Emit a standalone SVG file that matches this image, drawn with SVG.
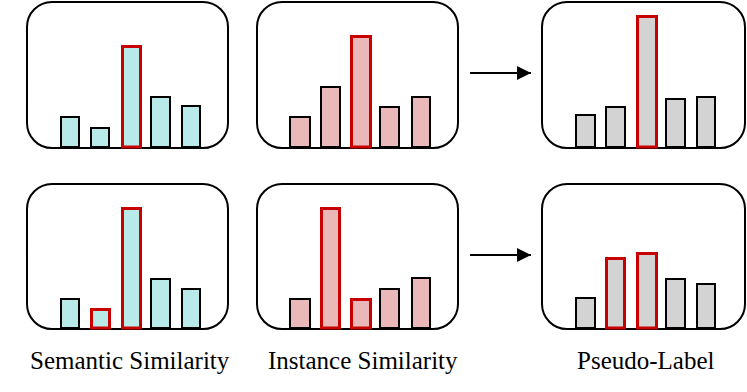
<svg xmlns="http://www.w3.org/2000/svg" width="747" height="392" viewBox="0 0 747 392">
<style>
.box{fill:#fff;stroke:#000;stroke-width:2}
.bar{stroke:#000;stroke-width:2}
.c{fill:#B9EAEA}
.p{fill:#EAB8B8}
.g{fill:#D3D3D3}
.r{stroke:#C80000;stroke-width:3}
.conn{stroke:#000;stroke-width:2;fill:none}
</style>
<defs>
<marker id="ah" markerUnits="userSpaceOnUse" markerWidth="16" markerHeight="16" refX="14" refY="7" orient="auto">
<path d="M0,0 L14,7 L0,14 Z" fill="#000"/>
</marker>
</defs>
<g id="semantic-top">
<rect class="box" x="27" y="2" width="201" height="146" rx="25"/>
<rect class="bar c" x="61" y="117" width="18" height="30"/>
<rect class="bar c" x="91" y="128" width="18" height="19"/>
<rect class="bar c r" x="122.5" y="46.5" width="18" height="100.5"/>
<rect class="bar c" x="151" y="97" width="19" height="50"/>
<rect class="bar c" x="182" y="106" width="18" height="41"/>
</g>
<g id="instance-top">
<rect class="box" x="257" y="2" width="201" height="146" rx="25"/>
<rect class="bar p" x="290" y="117" width="20" height="30"/>
<rect class="bar p" x="321" y="87" width="19" height="60"/>
<rect class="bar p r" x="351.5" y="36.5" width="19" height="110.5"/>
<rect class="bar p" x="380" y="107" width="19" height="40"/>
<rect class="bar p" x="412" y="97" width="18" height="50"/>
</g>
<g id="pseudo-top">
<rect class="box" x="542" y="2" width="203" height="146" rx="25"/>
<rect class="bar g" x="576" y="115" width="19" height="32"/>
<rect class="bar g" x="606" y="107" width="19" height="40"/>
<rect class="bar g r" x="637.5" y="16.5" width="19" height="130.5"/>
<rect class="bar g" x="666" y="99" width="19" height="48"/>
<rect class="bar g" x="697" y="97" width="18" height="50"/>
</g>
<g id="semantic-bottom">
<rect class="box" x="27" y="184" width="201" height="145" rx="25"/>
<rect class="bar c" x="61" y="299" width="18" height="29"/>
<rect class="bar c r" x="91.5" y="309.5" width="18" height="18.5"/>
<rect class="bar c r" x="122.5" y="208.5" width="18" height="119.5"/>
<rect class="bar c" x="151" y="279" width="19" height="49"/>
<rect class="bar c" x="182" y="289" width="18" height="39"/>
</g>
<g id="instance-bottom">
<rect class="box" x="257" y="184" width="201" height="145" rx="25"/>
<rect class="bar p" x="290" y="299" width="20" height="29"/>
<rect class="bar p r" x="321.5" y="208.5" width="18" height="119.5"/>
<rect class="bar p r" x="351.5" y="299.5" width="19" height="28.5"/>
<rect class="bar p" x="380" y="289" width="19" height="39"/>
<rect class="bar p" x="412" y="278" width="18" height="50"/>
</g>
<g id="pseudo-bottom">
<rect class="box" x="542" y="184" width="203" height="145" rx="25"/>
<rect class="bar g" x="576" y="298" width="19" height="30"/>
<rect class="bar g r" x="606.5" y="258.5" width="18" height="69.5"/>
<rect class="bar g r" x="637.5" y="253.5" width="19" height="74.5"/>
<rect class="bar g" x="666" y="279" width="19" height="49"/>
<rect class="bar g" x="697" y="284" width="18" height="44"/>
</g>
<g id="connectors">
<line class="conn" x1="470" y1="73" x2="531" y2="73" marker-end="url(#ah)"/>
<line class="conn" x1="470" y1="255" x2="531" y2="255" marker-end="url(#ah)"/>
</g>
<g id="labels" font-family="'Liberation Serif', 'Times New Roman', 'DejaVu Serif', serif" font-size="25" fill="#000">
<text x="30" y="369">Semantic Similarity</text>
<text x="268" y="369">Instance Similarity</text>
<text x="577" y="369">Pseudo-Label</text>
</g>
</svg>
